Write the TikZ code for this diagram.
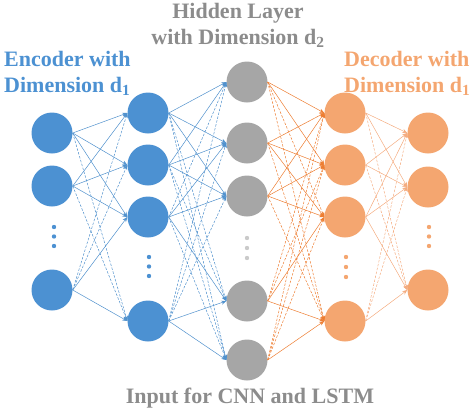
\documentclass[tikz,border=0pt]{standalone}
\usepackage{fontspec}
\setmainfont{Liberation Serif}
\usetikzlibrary{arrows.meta}

\definecolor{encblue}{RGB}{76,145,210}
\definecolor{linkblue}{RGB}{80,145,205}
\definecolor{hidgrey}{RGB}{166,166,166}
\definecolor{txtgrey}{RGB}{140,140,140}
\definecolor{decorange}{RGB}{244,166,112}
\definecolor{linkorange}{RGB}{237,125,49}
\definecolor{linklight}{RGB}{244,172,128}

\begin{document}
\begin{tikzpicture}[x=1pt,y=-1pt,
    unit/.style={circle,inner sep=0pt,minimum size=41pt},
    dot/.style={circle,inner sep=0pt,minimum size=4.4pt},
    link/.style={line width=0.5pt,-{Stealth[length=5pt,width=4pt]}},
    far/.style={dash pattern=on 2.5pt off 1.5pt},
    near/.style={},
    caption/.style={font=\fontsize{22}{26}\selectfont\bfseries,inner sep=0pt,align=left}]
  \useasboundingbox (0,0) rectangle (474,410);

  % layers of units
  \foreach \i/\y in {1/133,2/186,3/290}
    \node[unit,fill=encblue] (inp\i) at (52,\y) {};
  \foreach \i/\y in {1/113,2/165,3/217,4/321}
    \node[unit,fill=encblue] (enc\i) at (148,\y) {};
  \foreach \i/\y in {1/82,2/143,3/196,4/301,5/360}
    \node[unit,fill=hidgrey] (hid\i) at (247,\y) {};
  \foreach \i/\y in {1/113,2/165,3/217,4/321}
    \node[unit,fill=decorange] (dec\i) at (345,\y) {};
  \foreach \i/\y in {1/133,2/187,3/290}
    \node[unit,fill=decorange] (out\i) at (428,\y) {};

  % dots
  \foreach \k in {0,1,2}{
    \node[dot,fill=encblue] (inpdot\k) at (54,227+9.5*\k) {};
    \node[dot,fill=encblue] (encdot\k) at (149,257+9.5*\k) {};
    \node[dot,fill=hidgrey!60] (hiddot\k) at (247,238+10*\k) {};
    \node[dot,fill=decorange] (decdot\k) at (346,257+10*\k) {};
    \node[dot,fill=decorange] (outdot\k) at (429,227+9.5*\k) {};
  }

  % connections
  \foreach \i/\ya in {1/133,2/186,3/290}
    \foreach \j/\yb in {1/113,2/165,3/217,4/321}{
      \pgfmathsetmacro\gap{abs(\ya-\yb)}
      \ifdim\gap pt>90pt \def\kind{far}\else\def\kind{near}\fi
      \draw[link,linkblue,\kind] (inp\i.east) -- (enc\j.west);
    }
  \foreach \i/\ya in {1/113,2/165,3/217,4/321}
    \foreach \j/\yb in {1/82,2/143,3/196,4/301,5/360}{
      \pgfmathsetmacro\gap{abs(\ya-\yb)}
      \ifdim\gap pt>90pt \def\kind{far}\else\def\kind{near}\fi
      \draw[link,linkblue,\kind] (enc\i.east) -- (hid\j.west);
    }
  \foreach \i/\ya in {1/82,2/143,3/196,4/301,5/360}
    \foreach \j/\yb in {1/113,2/165,3/217,4/321}{
      \pgfmathsetmacro\gap{abs(\ya-\yb)}
      \ifdim\gap pt>90pt \def\kind{far}\else\def\kind{near}\fi
      \draw[link,linkorange,\kind] (hid\i.east) -- (dec\j.west);
    }
  \foreach \i/\ya in {1/113,2/165,3/217,4/321}
    \foreach \j/\yb in {1/133,2/187,3/290}{
      \pgfmathsetmacro\gap{abs(\ya-\yb)}
      \ifdim\gap pt>90pt \def\kind{far}\else\def\kind{near}\fi
      \draw[link,linklight,\kind] (dec\i.east) -- (out\j.west);
    }

  % captions
  \node[caption,text=encblue,anchor=north west] (enctitle) at (4,51)
    {Encoder with\\Dimension d\textsubscript{1}};
  \node[caption,text=txtgrey,anchor=north,align=center] (hidtitle) at (238,3)
    {Hidden Layer\\with Dimension d\textsubscript{2}};
  \node[caption,text=decorange,anchor=north west] (dectitle) at (344,51)
    {Decoder with\\Dimension d\textsubscript{1}};
  \node[caption,text=txtgrey,anchor=north] (inputtitle) at (250,388)
    {Input for CNN and LSTM};
\end{tikzpicture}
\end{document}
